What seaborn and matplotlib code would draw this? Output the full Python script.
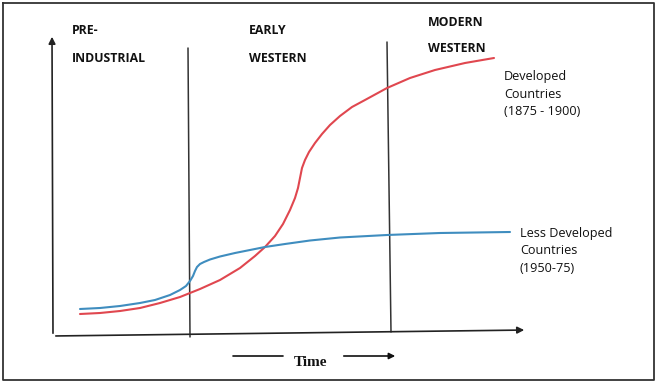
import matplotlib
matplotlib.use("Agg")
import matplotlib.pyplot as plt
import seaborn as sns
import pandas as pd

# curve points (pixel-like units, y grows downward)
dev_x = [80, 100, 120, 140, 160, 180, 200, 220, 240, 255, 265, 275, 283, 290, 295, 298, 300, 302,
         305, 309, 315, 322, 330, 340, 352, 365, 387, 410, 435, 465, 494]
dev_y = [314, 313, 311, 308, 303, 297, 289, 280, 268, 256, 247, 236, 224, 210, 198, 188, 178, 168,
         160, 152, 143, 134, 125, 116, 107, 100, 88, 78, 70, 63, 58]
less_x = [80, 100, 120, 140, 155, 170, 180, 186, 190, 193, 195, 197, 200, 204, 210, 220, 235, 250,
          265, 285, 310, 340, 387, 440, 510]
less_y = [309, 308, 306, 303, 300, 295, 290, 286, 281, 276, 271, 267, 264, 262, 259.5, 256.5, 253, 250,
          247, 244, 240.5, 237.5, 235, 233, 232]

era_top = ["PRE-", "EARLY", "MODERN"]
era_bottom = ["INDUSTRIAL", "WESTERN", "WESTERN"]
dev_label = "Developed\nCountries\n(1875 - 1900)"
less_label = "Less Developed\nCountries\n(1950-75)"

sns.set_style("white")
fig = plt.figure(figsize=(6.58, 3.87), dpi=100)
ax = fig.add_axes([0, 0, 1, 1])

# outer frame
ax.plot([3, 654, 654, 3, 3], [3, 3, 380, 380, 3], color="#333333", lw=1.3)

# axes arrows
ax.annotate("", xy=(52, 34), xytext=(53, 336),
            arrowprops=dict(arrowstyle="-|>", color="#222222", lw=1.2, mutation_scale=10))
ax.annotate("", xy=(527, 330), xytext=(53, 336),
            arrowprops=dict(arrowstyle="-|>", color="#222222", lw=1.2, mutation_scale=10))

# era dividers
ax.plot([188, 190], [48, 337], color="#333333", lw=1.1)
ax.plot([387, 391], [42, 332], color="#333333", lw=1.1)

df = pd.concat([
    pd.DataFrame({"x": dev_x, "y": dev_y, "series": "dev"}),
    pd.DataFrame({"x": less_x, "y": less_y, "series": "less"}),
])
sns.lineplot(data=df, x="x", y="y", hue="series", sort=False, estimator=None,
             palette={"dev": "#e0474f", "less": "#3f8dbf"}, lw=1.5, legend=False, ax=ax)
ax.set_xlim(0, 658)
ax.set_ylim(387, 0)
ax.axis("off")

bold = dict(fontsize=8.8, fontweight="bold", family="Open Sans", va="center", color="#111111")
for tx, t1, t2, y1, y2 in zip([72, 249, 428], era_top, era_bottom, [30, 30, 23], [58, 58, 48]):
    ax.text(tx, y1, t1, **bold)
    ax.text(tx, y2, t2, **bold)

note = dict(fontsize=9.1, family="Open Sans", va="top", color="#111111", linespacing=1.45)
ax.text(504, 70, dev_label, **note)
ax.text(520, 227, less_label, **note)

# time arrow
ax.plot([233, 283], [356, 356], color="#111111", lw=1.2)
ax.annotate("", xy=(398, 356), xytext=(341, 356),
            arrowprops=dict(arrowstyle="-|>", color="#111111", lw=1.2, mutation_scale=9))
ax.text(310, 363, "Time", fontsize=11, fontweight="bold", family="Liberation Serif",
        ha="center", va="center", color="#111111")

fig.savefig("out.png", dpi=100)
